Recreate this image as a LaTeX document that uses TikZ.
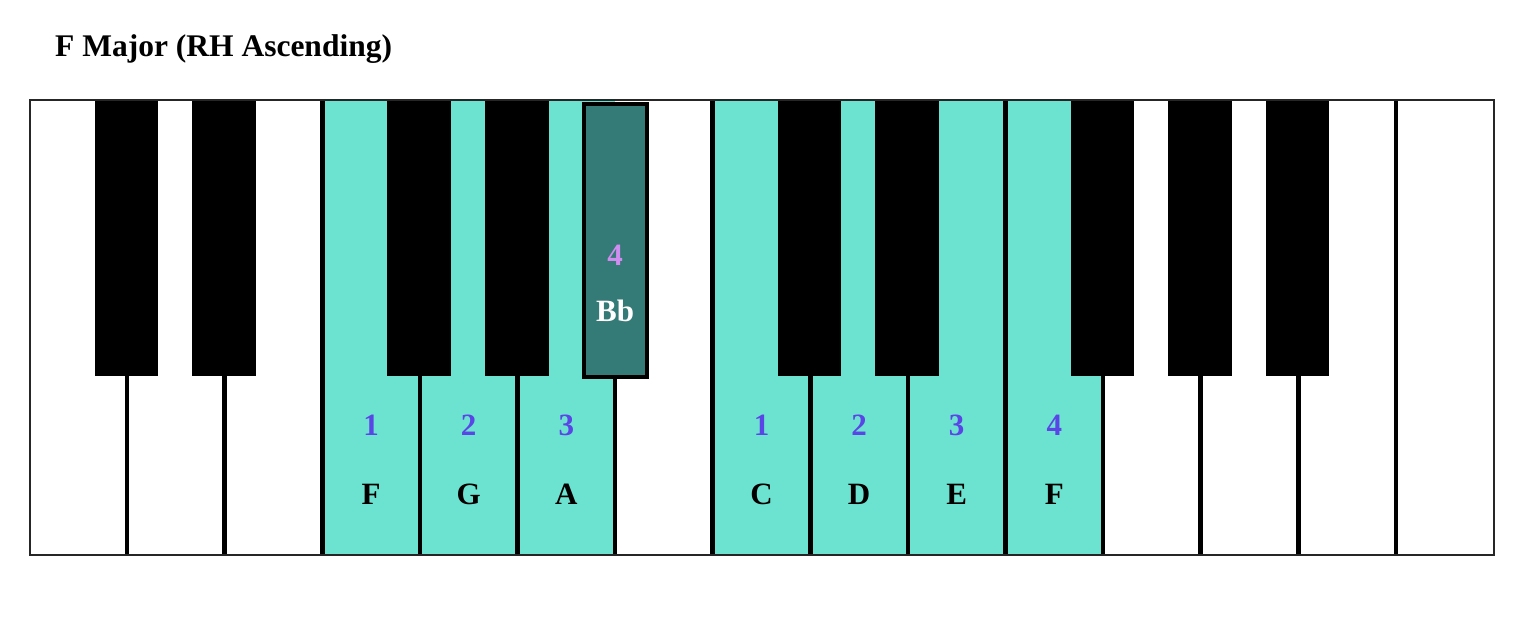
\documentclass[tikz,border=0pt]{standalone}
\usepackage{fontspec}
\setmainfont{Liberation Serif}
\definecolor{scaleteal}{HTML}{6CE3D0}
\definecolor{flatteal}{HTML}{347A76}
\definecolor{fingerblue}{HTML}{5A46E6}
\definecolor{fingerlilac}{HTML}{D08CF0}

\begin{document}
\begin{tikzpicture}[
  x=1pt,
  y=-1pt,
  whitekey/.style={fill=white,draw=none},
  litkey/.style={fill=scaleteal,draw=none},
  divider/.style={draw=black,line width=4.6pt},
  blackkey/.style={fill=black,draw=none},
  litblack/.style={fill=flatteal,draw=black,line width=4.4pt},
  rim/.style={draw=black!85,line width=2pt},
  finger/.style={font=\fontsize{31}{31}\selectfont\bfseries,text=fingerblue,anchor=base},
  notename/.style={font=\fontsize{31}{31}\selectfont\bfseries,anchor=base}
]
  \useasboundingbox[fill=white] (0,0) rectangle (1536,621);

  % Title.
  \node[anchor=base west,inner sep=0pt,font=\fontsize{31.5}{31.5}\selectfont\bfseries] (title) at (55,56.7) {F Major (RH Ascending)};

  % Keyboard corners.
  \coordinate (kbNW) at (29.5,99.5);
  \coordinate (kbSE) at (1493.5,555);

  % White keys, with the scale notes lit.
  \foreach \i in {0,...,14} {
    \path[whitekey] ({29.5+\i*97.6},99.5) rectangle ++(97.6,455.5);
  }
  \foreach \i in {3,4,5,7,8,9,10} {
    \path[litkey] ({29.5+\i*97.6},99.5) rectangle ++(97.6,455.5);
  }
  % Full-height borders where no black key sits, short ones below the black keys.
  \foreach \i in {3,7,10,14} {
    \draw[divider] ({29.5+\i*97.6},99.5) -- ++(0,455.5);
  }
  \foreach \i in {1,2,4,5,6,8,9,11,12,13} {
    \draw[divider] ({29.5+\i*97.6},360) -- (\i*97.6+29.5,555);
  }

  % Black keys sit on the white-key borders.
  \foreach \i in {1,2,4,5,8,9,11,12,13} {
    \path[blackkey] ({29.5+\i*97.6-32.5},99.5) rectangle ++(63.5,276.5);
  }
  \path[litblack] ({29.5+6*97.6-31.1},103.8) rectangle ++(62.7,272.9);

  \draw[rim] (kbNW) rectangle (kbSE);

  % Fingering and note names.
  \foreach \i/\f/\n in {3/1/F,4/2/G,5/3/A,7/1/C,8/2/D,9/3/E,10/4/F} {
    \node[finger] (f\i) at ({29.5+(\i+0.5)*97.6},435) {\f};
    \node[notename] (n\i) at ({29.5+(\i+0.5)*97.6},504) {\n};
  }
  \node[finger,text=fingerlilac] (fBb) at ({29.5+6*97.6},265) {4};
  \node[notename,text=white] (nBb) at ({29.5+6*97.6},321.5) {Bb};
\end{tikzpicture}
\end{document}
